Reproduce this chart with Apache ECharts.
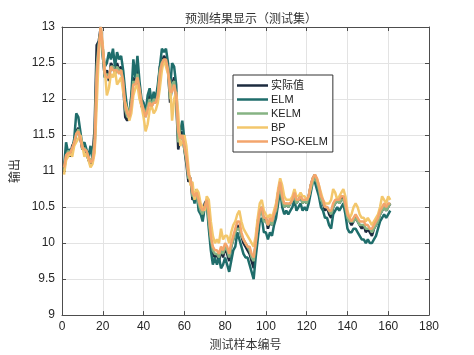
<!DOCTYPE html>
<html><head><meta charset="utf-8">
<script src="https://cdn.jsdelivr.net/npm/echarts@6/dist/echarts.min.js"></script>
<style>html,body{margin:0;padding:0;background:#fff}#c{width:474px;height:355px}</style>
</head><body><div id="c"></div>
<script>
const seriesNames = ['实际值','ELM','KELM','BP','PSO-KELM'];
const xTicks = [0,20,40,60,80,100,120,140,160,180];
const yTicks = [9,9.5,10,10.5,11,11.5,12,12.5,13];

const actual = [
11.00,11.25,11.30,11.20,11.35,11.40,11.55,11.60,11.45,11.30,
11.35,11.25,11.15,11.10,11.20,11.60,12.75,12.80,13.00,12.60,
12.30,12.40,12.25,12.50,12.45,12.35,12.50,12.40,12.45,12.20,
11.75,11.70,11.75,12.00,12.30,12.20,12.40,12.10,11.90,11.85,
11.75,11.95,12.05,11.90,12.00,11.95,12.10,12.45,12.50,12.60,
12.55,12.40,11.95,12.20,12.30,12.00,11.30,11.45,11.55,11.30,
11.10,10.85,10.90,10.60,10.65,10.70,10.50,10.45,10.35,10.55,
10.60,10.30,10.00,9.85,9.80,9.85,9.75,9.90,9.80,9.95,
9.85,9.75,9.95,10.05,10.15,10.25,10.20,10.10,10.00,9.95,
9.90,9.85,9.75,9.65,10.00,10.30,10.45,10.50,10.30,10.35,
10.20,10.30,10.25,10.40,10.50,10.70,10.85,10.60,10.50,10.55,
10.50,10.55,10.60,10.70,10.55,10.60,10.65,10.55,10.60,10.55,
10.65,10.80,10.90,10.95,10.85,10.75,10.60,10.55,10.45,10.50,
10.40,10.35,10.50,10.55,10.60,10.55,10.60,10.65,10.50,10.35,
10.30,10.25,10.30,10.35,10.30,10.25,10.20,10.25,10.15,10.20,
10.15,10.10,10.20,10.25,10.30,10.40,10.45,10.50,10.45,10.50,
10.55];

const elm = [
11.05,11.40,11.25,11.30,11.30,11.45,11.80,11.75,11.55,11.35,
11.40,11.30,11.20,11.35,11.15,11.30,12.20,12.75,12.95,12.70,
12.45,12.50,12.65,12.55,12.70,12.45,12.65,12.55,12.60,12.40,
12.10,11.85,11.80,12.05,12.55,12.30,12.60,12.25,12.00,11.95,
11.80,12.05,12.15,11.95,12.10,12.00,12.20,12.45,12.70,12.65,
12.70,12.50,12.15,12.50,12.45,12.20,11.50,11.55,11.70,11.45,
11.20,10.95,10.90,10.70,10.55,10.75,10.45,10.40,10.30,10.50,
10.55,10.20,9.90,9.70,9.80,9.70,9.80,9.65,9.70,9.80,
9.70,9.60,9.75,9.90,9.95,10.15,10.05,9.95,9.85,9.80,
9.80,9.70,9.60,9.50,9.80,10.05,10.30,10.35,10.15,10.15,
10.05,10.15,10.10,10.25,10.35,10.55,10.75,10.50,10.40,10.45,
10.40,10.45,10.50,10.60,10.45,10.50,10.55,10.45,10.50,10.45,
10.55,10.70,10.85,10.85,10.75,10.65,10.50,10.45,10.35,10.35,
10.25,10.20,10.40,10.45,10.50,10.45,10.50,10.55,10.40,10.20,
10.15,10.15,10.20,10.20,10.15,10.10,10.05,10.05,10.00,10.05,
10.00,10.00,10.05,10.10,10.20,10.30,10.35,10.40,10.35,10.40,
10.45];

const kelm = [
11.00,11.20,11.28,11.25,11.30,11.38,11.50,11.58,11.48,11.30,
11.32,11.28,11.18,11.15,11.18,11.45,12.45,12.75,12.95,12.60,
12.30,12.35,12.30,12.45,12.45,12.35,12.45,12.40,12.40,12.20,
11.85,11.75,11.80,11.95,12.25,12.20,12.35,12.10,11.95,11.85,
11.80,11.90,12.00,11.90,12.00,11.95,12.05,12.40,12.50,12.55,
12.50,12.40,12.00,12.20,12.25,12.00,11.40,11.45,11.50,11.30,
11.15,10.90,10.90,10.65,10.65,10.65,10.55,10.45,10.40,10.50,
10.55,10.30,10.05,9.90,9.85,9.85,9.80,9.90,9.85,9.95,
9.90,9.80,9.95,10.05,10.15,10.20,10.20,10.10,10.05,10.00,
9.95,9.90,9.80,9.75,10.00,10.25,10.40,10.45,10.30,10.30,
10.25,10.30,10.25,10.40,10.45,10.65,10.80,10.60,10.50,10.55,
10.50,10.55,10.60,10.65,10.55,10.60,10.65,10.55,10.60,10.55,
10.65,10.75,10.85,10.90,10.85,10.75,10.60,10.55,10.50,10.50,
10.45,10.40,10.50,10.55,10.60,10.55,10.60,10.60,10.50,10.35,
10.30,10.30,10.30,10.35,10.30,10.25,10.25,10.25,10.20,10.20,
10.20,10.15,10.20,10.25,10.30,10.40,10.45,10.50,10.45,10.50,
10.55];

const bp = [
10.95,11.15,11.20,11.25,11.20,11.35,11.40,11.45,11.50,11.35,
11.20,11.25,11.15,11.05,11.10,11.25,11.90,12.60,13.00,12.75,
12.40,12.05,12.15,12.35,12.30,12.40,12.20,12.25,12.30,12.10,
11.95,11.85,11.70,11.80,12.05,12.15,12.20,12.00,11.90,11.75,
11.55,11.65,11.85,11.90,11.80,11.85,11.95,12.15,12.40,12.55,
12.45,12.35,12.20,11.70,12.00,12.10,11.80,11.35,11.40,11.50,
11.35,11.05,10.80,10.85,10.60,10.75,10.70,10.55,10.50,10.45,
10.65,10.60,10.30,10.10,10.00,10.05,10.00,10.20,10.05,10.10,
10.10,10.00,10.15,10.25,10.30,10.40,10.45,10.30,10.20,10.15,
10.10,10.05,10.00,9.95,10.10,10.35,10.55,10.60,10.45,10.40,
10.35,10.40,10.35,10.45,10.55,10.75,10.90,10.80,10.65,10.60,
10.60,10.60,10.65,10.75,10.65,10.65,10.70,10.65,10.65,10.60,
10.65,10.80,10.90,10.95,10.90,10.80,10.70,10.60,10.55,10.55,
10.55,10.60,10.75,10.70,10.60,10.65,10.70,10.75,10.65,10.45,
10.35,10.40,10.50,10.55,10.50,10.40,10.35,10.35,10.30,10.35,
10.30,10.25,10.30,10.35,10.40,10.50,10.65,10.60,10.55,10.65,
10.60];

const psokelm = [
11.05,11.22,11.25,11.25,11.32,11.40,11.52,11.55,11.45,11.32,
11.30,11.28,11.20,11.12,11.15,11.35,12.30,12.70,13.00,12.70,
12.35,12.30,12.30,12.45,12.40,12.40,12.40,12.35,12.40,12.25,
11.90,11.80,11.75,11.90,12.20,12.20,12.30,12.15,11.95,11.85,
11.75,11.85,11.95,11.90,11.95,11.95,12.05,12.35,12.50,12.55,
12.55,12.40,12.10,12.10,12.20,12.05,11.55,11.45,11.50,11.35,
11.20,10.95,10.90,10.70,10.65,10.70,10.60,10.50,10.45,10.50,
10.60,10.40,10.10,9.95,9.90,9.90,9.85,9.95,9.90,10.00,
9.95,9.85,10.00,10.10,10.20,10.30,10.30,10.15,10.05,10.00,
9.95,9.95,9.85,9.80,10.00,10.25,10.45,10.50,10.35,10.35,
10.25,10.35,10.30,10.40,10.50,10.70,10.85,10.65,10.55,10.55,
10.55,10.55,10.60,10.70,10.60,10.60,10.65,10.60,10.60,10.60,
10.65,10.80,10.90,10.95,10.90,10.80,10.65,10.60,10.50,10.50,
10.45,10.45,10.55,10.60,10.60,10.60,10.65,10.65,10.55,10.40,
10.35,10.30,10.35,10.40,10.35,10.30,10.30,10.30,10.25,10.25,
10.20,10.20,10.25,10.30,10.35,10.45,10.50,10.55,10.50,10.55,
10.55];

const allData = [actual, elm, kelm, bp, psokelm];
const colors = ['#1d2b3f','#1f6d6b','#86b383','#f3c76c','#f3a56c'];

const chart = echarts.init(document.getElementById('c'), null, {renderer:'canvas'});
const axisCol = '#4d4d4d';
const labelFont = 'Liberation Sans, Arial, sans-serif';
const cjkFont = 'Noto Sans CJK SC, sans-serif';

chart.setOption({
  animation:false,
  backgroundColor:'#fff',
  title:{text:'预测结果显示（测试集）', left:246, top:7, textAlign:'center',
    textStyle:{fontSize:12, fontWeight:'normal', color:'#333', fontFamily:cjkFont}},
  grid:{left:62, right:45, top:27, bottom:39},
  legend:{
    orient:'vertical', left:233, top:75,
    data:seriesNames,
    icon:'rect', itemWidth:31, itemHeight:2.5, itemGap:1,
    padding:[4,5,4,4],
    backgroundColor:'#fff', borderColor:'#333', borderWidth:1,
    textStyle:{fontSize:11, lineHeight:13, color:'#222', fontFamily:'Liberation Sans, Arial, Noto Sans CJK SC, sans-serif', padding:[0,0,0,-2]}
  },
  xAxis:[{
    type:'value', min:0, max:180, interval:20,
    name:'测试样本编号', nameLocation:'middle', nameGap:22,
    nameTextStyle:{fontSize:12, color:'#333', fontFamily:cjkFont},
    axisLine:{show:true, onZero:false, lineStyle:{color:axisCol}},
    axisTick:{show:true, inside:true, length:4, lineStyle:{color:axisCol}},
    axisLabel:{fontSize:12, color:'#262626', fontFamily:labelFont, margin:6},
    splitLine:{show:true, lineStyle:{color:'#e3e3e3', width:1}}
  },{
    type:'value', min:0, max:180, interval:20, position:'top',
    axisLine:{show:true, onZero:false, lineStyle:{color:axisCol}},
    axisTick:{show:true, inside:true, length:4, lineStyle:{color:axisCol}},
    axisLabel:{show:false}, splitLine:{show:false}
  }],
  yAxis:[{
    type:'value', min:9, max:13, interval:0.5,
    name:'输出', nameLocation:'middle', nameGap:33, nameRotate:90,
    nameTextStyle:{fontSize:12, color:'#333', fontFamily:cjkFont},
    axisLine:{show:true, onZero:false, lineStyle:{color:axisCol}},
    axisTick:{show:true, inside:true, length:4, lineStyle:{color:axisCol}},
    axisLabel:{fontSize:12, color:'#262626', fontFamily:labelFont, margin:7,
      formatter:function(v){return yTicks.indexOf(v)>=0 ? String(v) : '';}},
    splitLine:{show:true, lineStyle:{color:'#e3e3e3', width:1}}
  },{
    type:'value', min:9, max:13, interval:0.5, position:'right',
    axisLine:{show:true, onZero:false, lineStyle:{color:axisCol}},
    axisTick:{show:true, inside:true, length:4, lineStyle:{color:axisCol}},
    axisLabel:{show:false}, splitLine:{show:false}
  }],
  series: seriesNames.map(function(n, k){
    return {
      name:n, type:'line', xAxisIndex:0, yAxisIndex:0,
      showSymbol:false, symbol:'none',
      color:colors[k],
      lineStyle:{width:2.5, color:colors[k]},
      data: allData[k].map(function(v,i){return [i+1, v];}),
      z:2+k
    };
  })
});
</script>
</body></html>
